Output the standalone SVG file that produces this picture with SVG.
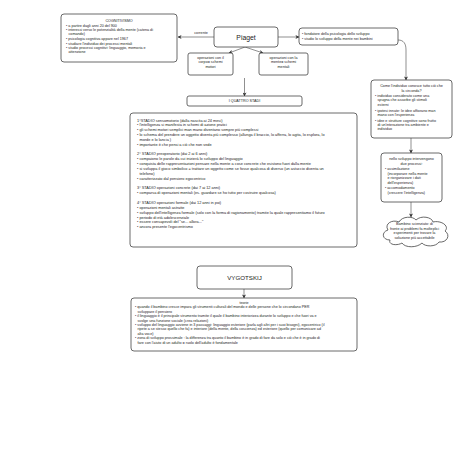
<svg xmlns="http://www.w3.org/2000/svg" width="474" height="474" viewBox="0 0 474 474">
<defs>
<marker id="ah" viewBox="0 0 10 10" refX="9" refY="5" markerWidth="4" markerHeight="4" orient="auto" markerUnits="userSpaceOnUse">
<path d="M0,0 L10,5 L0,10 L3,5 z" fill="#333"/>
</marker>
<style>
.box{fill:#fff;stroke:#444;stroke-width:0.8}
.t{font-family:"Liberation Sans",Arial,sans-serif;font-size:3.7px;fill:#222}
.b{font-size:3.85px}
.c{text-anchor:middle}
.ln{fill:none;stroke:#444;stroke-width:0.6;marker-end:url(#ah)}
</style>
</defs>
<rect width="474" height="474" fill="#fff"/>

<g id="connectors">
<line class="ln" x1="214" y1="37" x2="178" y2="37"/>
<text class="t c" x="201" y="34">corrente</text>
<line class="ln" x1="278" y1="37" x2="299" y2="37"/>
<path class="ln" d="M398,40 C404,40 406,44 406,50 L406,80"/>
<line class="ln" x1="245" y1="47" x2="229" y2="53"/>
<line class="ln" x1="245" y1="47" x2="263" y2="53"/>
<line class="ln" x1="244.5" y1="78" x2="244.5" y2="96"/>
<line class="ln" x1="411" y1="138" x2="411" y2="153"/>
<line class="ln" x1="411" y1="202" x2="411" y2="217"/>
<line class="ln" x1="244" y1="289" x2="244" y2="298"/>
</g>

<g id="cognitivismo">
<rect class="box" x="61" y="14" width="116" height="48" rx="3"/>
<text class="t c" x="119" y="22">COGNITIVISMO</text>
<text class="t" x="66" y="26.5">• a partire dagli anni 20 del 900</text>
<text class="t" x="66" y="31">• interessi verso le potenzialità della mente (catena di</text>
<text class="t" x="68.5" y="35">comando)</text>
<text class="t" x="66" y="40">• psicologia cognitiva appare nel 1967</text>
<text class="t" x="66" y="44.5">• studiare l'individuo dei processi mentali</text>
<text class="t" x="66" y="49">• studio processi cognitivi: linguaggio, memoria e</text>
<text class="t" x="68.5" y="53">attenzione</text>
</g>

<g id="piaget">
<rect class="box" x="214" y="27" width="64" height="20" rx="3"/>
<text class="t c" x="246" y="39.5" style="font-size:6.8px">Piaget</text>
</g>

<g id="fondatore">
<rect class="box" x="299" y="28" width="99" height="17" rx="3"/>
<text class="t" x="302" y="35">• fondatore della psicologia dello sviluppo</text>
<text class="t" x="302" y="39.5">• studio lo sviluppo della mente nei bambini</text>
</g>

<g id="corpo">
<rect class="box" x="188" y="53" width="45" height="22" rx="2"/>
<text class="t c" x="210.5" y="58.5">operazioni con il</text>
<text class="t c" x="210.5" y="63">corpo= schemi</text>
<text class="t c" x="210.5" y="67.5">motori</text>
</g>

<g id="mente">
<rect class="box" x="259" y="53" width="49" height="22" rx="2"/>
<text class="t c" x="283.5" y="58.5">operazioni con la</text>
<text class="t c" x="283.5" y="63">mente= schemi</text>
<text class="t c" x="283.5" y="67.5">mentali</text>
</g>

<g id="stadi">
<rect class="box" x="187" y="96" width="115" height="10" rx="2"/>
<text class="t c" x="244.5" y="102.3">I QUATTRO STADI</text>
</g>

<g id="stadi-dettaglio">
<rect class="box" x="130" y="113" width="227" height="134" rx="3"/>
<text class="t b" x="137" y="121.5">1°STADIO sensomotorio (dalla nascita ai 24 mesi)</text>
<text class="t b" x="137" y="126.3">• l'intelligenza si manifesta in schemi di azione pratici</text>
<text class="t b" x="137" y="131.2">• gli schemi motori semplici man mano diventano sempre più complessi</text>
<text class="t b" x="137" y="136">• lo schema del prendere un oggetto diventa più complesso (allunga il braccio, lo afferra, lo agita, lo esplora, lo</text>
<text class="t b" x="139.5" y="140.9">morde e lo lancia )</text>
<text class="t b" x="137" y="145.7">• importante è che pensi a ciò che non vede</text>
<text class="t b" x="137" y="155.4">2° STADIO preoperatorio (dai 2 ai 6 anni)</text>
<text class="t b" x="137" y="160.3">• compaiono le parole da cui inizierà lo sviluppo del linguaggio</text>
<text class="t b" x="137" y="165.1">• conquista delle rappresentazioni pensare nella mente a cose concrete che esistono fuori dalla mente</text>
<text class="t b" x="137" y="170">• si sviluppa il gioco simbolico = trattare un oggetto come se fosse qualcosa di diverso (un astuccio diventa un</text>
<text class="t b" x="139.5" y="174.8">telefono)</text>
<text class="t b" x="137" y="179.7">• caratterizzato dal pensiero egocentrico</text>
<text class="t b" x="137" y="189.4">3° STADIO operazioni concrete (dai 7 ai 12 anni)</text>
<text class="t b" x="137" y="194.2">• comparsa di operazioni mentali (es. guardare se ho tutto per costruire qualcosa)</text>
<text class="t b" x="137" y="203.9">4° STADIO operazioni formale (dai 12 anni in poi)</text>
<text class="t b" x="137" y="208.8">• operazioni mentali astratte</text>
<text class="t b" x="137" y="213.6">• sviluppo dell'intelligenza formale (solo con la forma di ragionamento) tramite la quale rappresentiamo il futuro</text>
<text class="t b" x="137" y="218.5">• periodo di età adolescenziale</text>
<text class="t b" x="137" y="223.3">• essere consapevoli del "se... allora..."</text>
<text class="t b" x="137" y="228.2">• ancora presente l'egocentrismo</text>
</g>

<g id="come">
<rect class="box" x="371" y="80" width="81" height="58" rx="3"/>
<text class="t c" x="411.5" y="87">Come l'individuo conosce tutto ciò che</text>
<text class="t c" x="411.5" y="91.5">la circonda?</text>
<text class="t" x="375" y="97">• individuo considerato come una</text>
<text class="t" x="377.5" y="101.3">spugna che assorbe gli stimoli</text>
<text class="t" x="377.5" y="105.6">esterni</text>
<text class="t" x="375" y="111.5">• ipotesi innate: le idee affiorano man</text>
<text class="t" x="377.5" y="115.8">mano con l'esperienza</text>
<text class="t" x="375" y="121.7">• idee e strutture cognitive sono frutto</text>
<text class="t" x="377.5" y="126">di un'interazione tra ambiente e</text>
<text class="t" x="377.5" y="130.3">individuo</text>
</g>

<g id="processi">
<rect class="box" x="381" y="153" width="61" height="49" rx="3"/>
<text class="t c" x="411.5" y="160">nello sviluppo intervengono</text>
<text class="t c" x="411.5" y="164.5">due processi:</text>
<text class="t" x="385" y="170">• assimilazione</text>
<text class="t" x="387.5" y="174.5">(incorporare nella mente</text>
<text class="t" x="387.5" y="179">e riorganizzare i dati</text>
<text class="t" x="387.5" y="183.5">dell'esperienza)</text>
<text class="t" x="385" y="189">• accomodamento</text>
<text class="t" x="387.5" y="193.5">(crescere l'intelligenza)</text>
</g>

<g id="scienziato">
<path class="box" d="M390,240 C382,240 381,232 388,230 C384,224 392,219 399,222 C402,216 413,216 416,220 C421,215 432,217 433,222 C441,220 450,226 445,231 C451,235 447,243 439,242 C436,247 425,247 422,243 C417,248 405,248 402,243 C397,246 388,245 390,240 Z"/>
<text class="t c" x="414.5" y="225">Bambino scienziato: di</text>
<text class="t c" x="414.5" y="229.5">fronte ai problemi fa molteplici</text>
<text class="t c" x="414.5" y="234">esperimenti per trovare la</text>
<text class="t c" x="414.5" y="238.5">soluzione più accettabile</text>
</g>

<g id="vygotskij">
<rect class="box" x="197" y="266" width="95" height="23" rx="3"/>
<text class="t c" x="244.5" y="279.5" style="font-size:6.2px">VYGOTSKIJ</text>
</g>

<g id="teorie">
<rect class="box" x="131" y="298" width="226" height="53" rx="3"/>
<text class="t c" x="244" y="304">teorie</text>
<text class="t" x="135" y="308.4">• quando il bambino cresce impara gli strumenti culturali del mondo e delle persone che lo circondano PER</text>
<text class="t" x="137.5" y="312.8">sviluppare il pensiero</text>
<text class="t" x="135" y="317.2">• il linguaggio è il principale strumento tramite il quale il bambino interiorizza durante lo sviluppo e che fuori va e</text>
<text class="t" x="137.5" y="321.6">svolge una funzione sociale (crea relazioni)</text>
<text class="t" x="135" y="326">• sviluppo del linguaggio avviene in 3 passaggi: linguaggio esteriore (parla agli altri per i suoi bisogni), egocentrico (il</text>
<text class="t" x="137.5" y="330.4">ripete a se stesso quello che fa) e interiore (della mente, della coscienza) ed esteriore  (quello per comunicare ad</text>
<text class="t" x="137.5" y="334.8">alta voce)</text>
<text class="t" x="135" y="339.2">• zona di sviluppo prossimale : la differenza tra quanto il bambino è in grado di fare da solo e ciò che è in grado di</text>
<text class="t" x="137.5" y="343.6">fare con l'aiuto di un adulto = ruolo dell'adulto è fondamentale</text>
</g>
</svg>
